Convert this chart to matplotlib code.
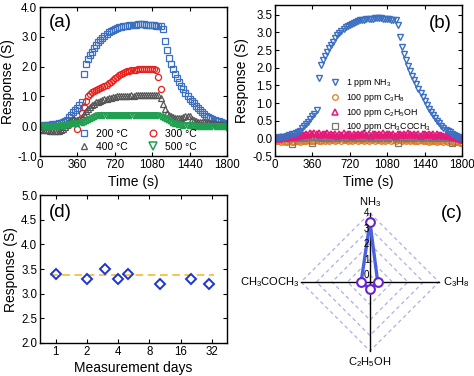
import numpy as np
import matplotlib
matplotlib.use("Agg")
import matplotlib.pyplot as plt

plt.rcParams['font.family'] = ['Liberation Sans', 'DejaVu Sans']
plt.rcParams['mathtext.fontset'] = 'custom'
plt.rcParams['mathtext.rm'] = 'Liberation Sans'
plt.rcParams['mathtext.it'] = 'Liberation Sans'

# ---- panel (a): response vs time at four temperatures ----
time_a = np.arange(0, 1801, 20)
resp_200 = [0.02, 0.02, 0.03, 0.03, 0.04, 0.05, 0.06, 0.07, 0.08, 0.10,
            0.12, 0.14, 0.17, 0.22, 0.30, 0.38, 0.47, 0.55, 0.62, 0.72,
            0.82, 1.74, 2.10, 2.25, 2.38, 2.50, 2.62, 2.74, 2.83, 2.91,
            2.98, 3.04, 3.10, 3.15, 3.20, 3.24, 3.27, 3.30, 3.32, 3.34,
            3.36, 3.37, 3.38, 3.39, 3.40, 3.41, 3.41, 3.42, 3.42, 3.42,
            3.42, 3.41, 3.41, 3.40, 3.40, 3.39, 3.38, 3.37, 3.36, 3.28,
            2.85, 2.55, 2.30, 2.10, 1.93, 1.77, 1.62, 1.48, 1.36, 1.24,
            1.13, 1.03, 0.93, 0.85, 0.77, 0.69, 0.61, 0.54, 0.47, 0.41,
            0.36, 0.32, 0.28, 0.25, 0.22, 0.19, 0.16, 0.14, 0.12, 0.10,
            0.08]
time_300 = np.arange(360, 1161, 20)
resp_300 = [-0.10, 0.20, 0.45, 0.65, 0.85, 1.00, 1.08, 1.14, 1.18, 1.22,
            1.25, 1.28, 1.31, 1.34, 1.38, 1.44, 1.50, 1.56, 1.62, 1.67,
            1.72, 1.76, 1.79, 1.82, 1.84, 1.86, 1.88, 1.89, 1.90, 1.91,
            1.92, 1.92, 1.93, 1.93, 1.93, 1.92, 1.93, 1.92, 1.90, 1.65,
            1.25]
resp_400 = [-0.10, -0.11, -0.12, -0.13, -0.14, -0.15, -0.15, -0.16, -0.16, -0.15,
            -0.14, -0.10, -0.04, 0.05, 0.15, 0.22, 0.25, 0.22, 0.20, 0.25,
            0.32, 0.40, 0.50, 0.58, 0.65, 0.70, 0.76, 0.80, 0.83, 0.86,
            0.89, 0.91, 0.93, 0.95, 0.96, 0.97, 0.98, 1.00, 1.01, 1.00,
            1.02, 1.02, 1.03, 1.02, 1.04, 1.03, 1.04, 1.05, 1.04, 1.05,
            1.05, 1.04, 1.06, 1.05, 1.06, 1.06, 1.05, 1.06, 0.95, 0.75,
            0.58, 0.46, 0.38, 0.33, 0.30, 0.28, 0.27, 0.27, 0.28, 0.30,
            0.34, 0.36, 0.34, 0.26, 0.20, 0.17, 0.15, 0.14, 0.13, 0.13,
            0.12, 0.12, 0.11, 0.11, 0.10, 0.09, 0.08, 0.07, 0.06, 0.05,
            0.05]
resp_500 = [0.00, -0.01, -0.02, -0.02, -0.03, -0.03, -0.03, -0.02, -0.02, -0.01,
            0.00, 0.01, 0.02, 0.03, 0.04, 0.05, 0.06, 0.07, 0.08, 0.09,
            0.10, 0.11, 0.13, 0.16, 0.20, 0.24, 0.28, 0.31, 0.33, 0.34,
            0.34, 0.34, 0.35, 0.35, 0.35, 0.35, 0.35, 0.35, 0.36, 0.36,
            0.36, 0.36, 0.36, 0.36, 0.36, 0.36, 0.36, 0.36, 0.36, 0.36,
            0.36, 0.36, 0.36, 0.36, 0.36, 0.36, 0.36, 0.35, 0.32, 0.28,
            0.24, 0.20, 0.16, 0.12, 0.09, 0.06, 0.04, 0.03, 0.02, 0.01,
            0.01, 0.00, 0.00, 0.00, -0.01, -0.01, -0.01, -0.01, -0.01, -0.01,
            -0.01, -0.01, -0.01, -0.01, -0.01, -0.01, -0.01, -0.01, -0.01, -0.02,
            -0.05]

# ---- panel (b): response to different gases ----
time_b = np.arange(0, 1801, 20)
resp_nh3 = [0.00, 0.01, 0.02, 0.03, 0.04, 0.05, 0.07, 0.09, 0.11, 0.13,
            0.15, 0.18, 0.22, 0.28, 0.34, 0.40, 0.47, 0.54, 0.62, 0.70,
            0.80, 1.72, 2.08, 2.22, 2.34, 2.45, 2.55, 2.64, 2.74, 2.84,
            2.92, 2.99, 3.05, 3.10, 3.15, 3.19, 3.22, 3.25, 3.28, 3.30,
            3.32, 3.34, 3.35, 3.36, 3.37, 3.38, 3.39, 3.39, 3.40, 3.40,
            3.40, 3.40, 3.39, 3.39, 3.38, 3.37, 3.36, 3.35, 3.35, 3.20,
            2.86, 2.60, 2.38, 2.22, 2.06, 1.92, 1.78, 1.65, 1.53, 1.41,
            1.29, 1.17, 1.05, 0.94, 0.84, 0.75, 0.66, 0.58, 0.50, 0.43,
            0.36, 0.30, 0.25, 0.21, 0.17, 0.13, 0.09, 0.06, 0.04, 0.02,
            0.00]
resp_c3h8 = [-0.06, -0.08, -0.07, -0.09, -0.08, -0.10, -0.09, -0.08, -0.10, -0.09,
             -0.08, -0.07, -0.09, -0.06, -0.08, -0.07, -0.05, -0.07, -0.06, -0.08,
             -0.05, -0.07, -0.06, -0.04, -0.06, -0.05, -0.07, -0.05, -0.04, -0.06,
             -0.05, -0.03, -0.06, -0.04, -0.05, -0.07, -0.04, -0.06, -0.05, -0.03,
             -0.06, -0.04, -0.05, -0.07, -0.04, -0.06, -0.05, -0.03, -0.06, -0.04,
             -0.05, -0.07, -0.04, -0.06, -0.05, -0.03, -0.06, -0.04, -0.07, -0.05,
             -0.04, -0.06, -0.05, -0.07, -0.04, -0.06, -0.05, -0.08, -0.06, -0.07,
             -0.05, -0.08, -0.06, -0.07, -0.09, -0.06, -0.08, -0.07, -0.09, -0.08,
             -0.07, -0.09, -0.08, -0.10, -0.08, -0.09, -0.11, -0.09, -0.10, -0.12,
             -0.12]
resp_c2h5oh = [0.00, 0.02, -0.01, 0.03, 0.01, 0.04, 0.02, 0.05, 0.03, 0.06,
               0.05, 0.08, 0.06, 0.10, 0.09, 0.12, 0.10, 0.14, 0.11, 0.15,
               0.12, 0.14, 0.10, 0.13, 0.11, 0.14, 0.09, 0.12, 0.10, 0.13,
               0.08, 0.12, 0.10, 0.14, 0.09, 0.11, 0.13, 0.08, 0.12, 0.10,
               0.13, 0.09, 0.11, 0.14, 0.10, 0.12, 0.08, 0.13, 0.11, 0.09,
               0.12, 0.10, 0.14, 0.09, 0.11, 0.13, 0.10, 0.12, 0.08, 0.11,
               0.13, 0.09, 0.12, 0.10, 0.14, 0.11, 0.09, 0.12, 0.10, 0.13,
               0.08, 0.11, 0.13, 0.09, 0.12, 0.10, 0.11, 0.08, 0.12, 0.09,
               0.10, 0.07, 0.09, 0.06, 0.08, 0.05, 0.04, 0.02, 0.01, -0.02,
               -0.05]
resp_acetone = [0.02, 0.00, 0.03, 0.01, 0.02, 0.00, 0.01, 0.03, -0.15, 0.02,
                0.01, 0.03, 0.02, 0.04, 0.02, 0.03, 0.05, 0.03, -0.14, 0.04,
                0.03, 0.05, 0.02, 0.04, 0.03, 0.05, 0.02, 0.04, 0.03, 0.05,
                0.02, 0.04, 0.03, 0.05, 0.02, 0.04, 0.03, 0.05, 0.02, 0.04,
                0.03, 0.05, 0.02, 0.04, 0.03, 0.05, 0.02, 0.04, 0.03, 0.05,
                0.02, 0.04, 0.03, 0.05, 0.02, 0.04, 0.03, 0.05, 0.02, -0.13,
                0.04, 0.03, 0.05, 0.02, 0.04, 0.03, 0.05, 0.02, 0.04, 0.03,
                0.05, 0.02, 0.04, 0.03, 0.05, 0.02, 0.04, 0.03, 0.02, 0.04,
                0.03, 0.02, 0.04, 0.01, 0.03, -0.14, 0.02, 0.01, 0.00, -0.02,
                -0.03]

# ---- panel (c): radar of responses ----
radar_gases = ['NH$_3$', 'C$_3$H$_8$', 'C$_2$H$_5$OH', 'CH$_3$COCH$_3$']
radar_values = [3.4, 0.05, 0.0, 0.12]
radar_levels = [0, 1, 2, 3, 4]

# ---- panel (d): stability over days ----
days = [1, 2, 3, 4, 5, 10, 20, 30]
resp_days = [3.4, 3.3, 3.5, 3.3, 3.4, 3.2, 3.3, 3.2]
mean_resp = 3.38
day_ticks = [1, 2, 4, 8, 16, 32]

fig = plt.figure(figsize=(4.74, 3.76), dpi=100)

TICK = 8.3
LAB = 10
PANEL = 13.5


def style_box(ax):
    ax.tick_params(direction='in', top=True, right=True, labelsize=TICK,
                   length=3, width=0.8, pad=2)
    for s in ax.spines.values():
        s.set_linewidth(1.0)


# (a)
ax_a = fig.add_axes([0.0844, 0.585, 0.3946, 0.396])
ax_a.plot(time_a, resp_200, 's', ms=4.2, mfc='none', mec='#3b6fc2', mew=0.9,
          label='200 \u00b0C')
ax_a.plot(time_300, resp_300, 'o', ms=4.4, mfc='none', mec='#e8201c', mew=0.9,
          label='300 \u00b0C')
ax_a.plot(time_a, resp_400, '^', ms=4.4, mfc='none', mec='#555555', mew=0.9,
          label='400 \u00b0C')
ax_a.plot(time_a, resp_500, 'v', ms=4.6, mfc='none', mec='#20a050', mew=1.1,
          label='500 \u00b0C')
ax_a.set_xlim(0, 1800)
ax_a.set_ylim(-1.0, 4.0)
ax_a.set_xticks([0, 360, 720, 1080, 1440, 1800])
ax_a.set_yticks([-1, 0, 1, 2, 3, 4])
ax_a.set_yticklabels(['-1.0', '0.0', '1.0', '2.0', '3.0', '4.0'])
ax_a.set_xlabel('Time (s)', fontsize=LAB, labelpad=3)
ax_a.set_ylabel('Response (S)', fontsize=LAB, labelpad=2)
style_box(ax_a)
h, l = ax_a.get_legend_handles_labels()
ax_a.legend([h[0], h[2], h[1], h[3]], [l[0], l[2], l[1], l[3]], ncol=2,
            loc='center', bbox_to_anchor=(0.52, 0.105), frameon=False,
            fontsize=7.5, handletextpad=0.6, columnspacing=1.8,
            labelspacing=0.25, handlelength=1.2, markerscale=1.1)
ax_a.text(0.045, 0.87, '(a)', transform=ax_a.transAxes, fontsize=PANEL)

# (b)
ax_b = fig.add_axes([0.580, 0.585, 0.395, 0.402])
ax_b.plot(time_b, resp_c3h8, 'o', ms=4.0, mfc='none', mec='#e07a1e', mew=0.9)
ax_b.plot(time_b, resp_acetone, 's', ms=3.8, mfc='none', mec='#777777', mew=0.9)
ax_b.plot(time_b, resp_c2h5oh, '^', ms=4.4, mfc='none', mec='#e8187a', mew=1.1)
ax_b.plot(time_b, resp_nh3, 'v', ms=4.8, mfc='none', mec='#3b6fc2', mew=1.0)
lg_h = [ax_b.lines[3], ax_b.lines[0], ax_b.lines[2], ax_b.lines[1]]
lg_l = ['1 ppm NH$_3$', '100 ppm C$_3$H$_8$', '100 ppm C$_2$H$_5$OH',
        '100 ppm CH$_3$COCH$_3$']
ax_b.legend(lg_h, lg_l, loc='center left', bbox_to_anchor=(0.25, 0.335),
            frameon=False, fontsize=6.4, handletextpad=0.6,
            labelspacing=0.3, handlelength=1.2, markerscale=1.0)
ax_b.set_xlim(0, 1800)
ax_b.set_ylim(-0.5, 3.78)
ax_b.set_xticks([0, 360, 720, 1080, 1440, 1800])
ax_b.set_yticks(np.arange(-0.5, 3.51, 0.5))
ax_b.set_yticklabels(['%.1f' % v for v in np.arange(-0.5, 3.51, 0.5)])
ax_b.set_xlabel('Time (s)', fontsize=LAB, labelpad=3)
ax_b.set_ylabel('Response (S)', fontsize=LAB, labelpad=2)
style_box(ax_b)
ax_b.text(0.82, 0.85, '(b)', transform=ax_b.transAxes, fontsize=PANEL)

# (d)
ax_d = fig.add_axes([0.0844, 0.0878, 0.3946, 0.3932])
ax_d.set_xscale('log', base=2)
ax_d.plot([0.88, 33.5], [mean_resp, mean_resp], '--', color='#f2b51c', lw=1.1,
          dashes=(5, 3))
ax_d.plot(days, resp_days, 'D', ms=5.2, mfc='none', mec='#1c34d4', mew=1.4)
ax_d.set_xlim(2 ** -0.5, 2 ** 5.48)
ax_d.set_ylim(2.0, 5.0)
ax_d.set_xticks(day_ticks)
ax_d.set_xticklabels([str(d) for d in day_ticks])
ax_d.xaxis.set_minor_locator(matplotlib.ticker.NullLocator())
ax_d.set_yticks(np.arange(2.0, 5.01, 0.5))
ax_d.set_yticklabels(['%.1f' % v for v in np.arange(2.0, 5.01, 0.5)])
ax_d.set_xlabel('Measurement days', fontsize=LAB, labelpad=2)
ax_d.set_ylabel('Response (S)', fontsize=LAB, labelpad=2)
style_box(ax_d)
ax_d.text(0.045, 0.85, '(d)', transform=ax_d.transAxes, fontsize=PANEL)

# (c) radar
ax_c = fig.add_axes([0.635, 0.0665, 0.291, 0.367], projection='polar')
ax_c.set_theta_zero_location('N')
ax_c.set_theta_direction(-1)
ax_c.set_rlim(-0.45, 4.0)
ax_c.axis('off')
angles = np.deg2rad([0, 90, 180, 270])
closed = np.append(angles, angles[0])
for lvl in radar_levels:
    ax_c.plot(closed, [lvl] * 5, '--', color='#aab2e4', lw=0.9, dashes=(3, 2.5),
              clip_on=False)
for ang in angles:
    ax_c.plot([ang, ang], [-0.45, 4.0], '-', color='black', lw=1.0, clip_on=False)
vals = np.append(radar_values, radar_values[0])
ax_c.plot(closed, vals, '-', color='#4a62e0', lw=2.4, clip_on=False, zorder=4)
ax_c.plot(angles, radar_values, 'o', ms=6.3, mfc='white', mec='#6a22d0',
          mew=1.5, clip_on=False, zorder=5)
for lvl in radar_levels:
    ax_c.annotate(str(lvl), xy=(0, lvl), xytext=(-0.5, 0),
                  textcoords='offset points', ha='right', va='center',
                  fontsize=7, zorder=6)
ax_c.annotate(radar_gases[0], xy=(angles[0], 4.0), xytext=(0, 3),
              textcoords='offset points', ha='center', va='bottom', fontsize=8)
ax_c.annotate(radar_gases[1], xy=(angles[1], 4.0), xytext=(3, 0),
              textcoords='offset points', ha='left', va='center', fontsize=8)
ax_c.annotate(radar_gases[2], xy=(angles[2], 4.0), xytext=(0, -3),
              textcoords='offset points', ha='center', va='top', fontsize=8)
ax_c.annotate(radar_gases[3], xy=(angles[3], 4.0), xytext=(-1, 0),
              textcoords='offset points', ha='right', va='center', fontsize=8)
fig.text(0.93, 0.42, '(c)', fontsize=PANEL)

fig.savefig('out.png', dpi=100)
